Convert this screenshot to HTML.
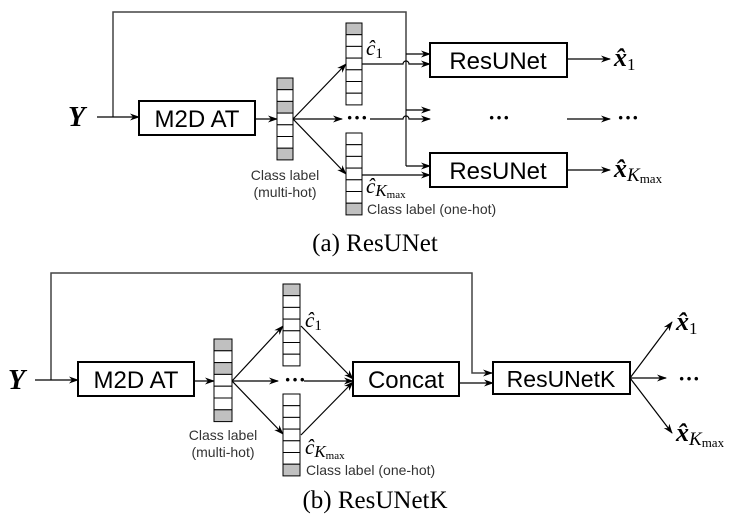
<!DOCTYPE html>
<html><head><meta charset="utf-8"><style>
html,body{margin:0;padding:0;background:#fff;}
svg{display:block;}
.t{font-family:"Liberation Sans",sans-serif;}
.s{font-family:"Liberation Serif",serif;}
</style></head><body>
<svg width="746" height="522" viewBox="0 0 746 522" xmlns="http://www.w3.org/2000/svg">
<defs>
<marker id="a" markerWidth="10" markerHeight="8" refX="9" refY="4" orient="auto" markerUnits="userSpaceOnUse">
<path d="M0,0.5 L10,4 L0,7.5 L3,4 Z" fill="#000"/></marker>
</defs>
<g stroke="#000" stroke-width="1.2" fill="none">
<path d="M113 117 V12 H406 V166" stroke="#444" stroke-width="1.5"/>
<line x1="97" y1="117" x2="139" y2="117" marker-end="url(#a)"/>
<rect x="139" y="101" width="116" height="34" stroke-width="2"/>
<line x1="255" y1="119" x2="277" y2="119" marker-end="url(#a)"/>
<line x1="293" y1="119" x2="346" y2="64" marker-end="url(#a)"/>
<line x1="293" y1="119" x2="346" y2="174" marker-end="url(#a)"/>
<line x1="293" y1="119" x2="342" y2="119" marker-end="url(#a)"/>
<path d="M362 64 H403 A3 3 0 0 1 409 64 H430" marker-end="url(#a)"/>
<path d="M370 119 H403 A3 3 0 0 1 409 119 H430" marker-end="url(#a)"/>
<line x1="362" y1="175" x2="430" y2="175" marker-end="url(#a)"/>
<line x1="406" y1="54" x2="430" y2="54" marker-end="url(#a)"/>
<line x1="406" y1="110" x2="430" y2="110" marker-end="url(#a)"/>
<line x1="406" y1="166" x2="430" y2="166" marker-end="url(#a)"/>
<rect x="430" y="43" width="137" height="34" stroke-width="2"/>
<rect x="430" y="153" width="137" height="34" stroke-width="2"/>
<line x1="567" y1="59" x2="610" y2="59" marker-end="url(#a)"/>
<line x1="567" y1="119" x2="610" y2="119" marker-end="url(#a)"/>
<line x1="567" y1="170" x2="610" y2="170" marker-end="url(#a)"/>
<path d="M51 380 V273 H472 V373 H492" stroke="#444" stroke-width="1.5" marker-end="url(#a)"/>
<line x1="35" y1="380" x2="78" y2="380" marker-end="url(#a)"/>
<rect x="78" y="362" width="116" height="34" stroke-width="2"/>
<line x1="194" y1="381" x2="214" y2="381" marker-end="url(#a)"/>
<line x1="232" y1="381" x2="283" y2="326" marker-end="url(#a)"/>
<line x1="232" y1="381" x2="283" y2="434" marker-end="url(#a)"/>
<line x1="232" y1="381" x2="278" y2="381" marker-end="url(#a)"/>
<line x1="304" y1="381" x2="353" y2="381" marker-end="url(#a)"/>
<line x1="301" y1="326" x2="353" y2="379" marker-end="url(#a)"/>
<line x1="301" y1="435" x2="353" y2="382" marker-end="url(#a)"/>
<rect x="353" y="362" width="106" height="34" stroke-width="2"/>
<line x1="459" y1="383" x2="493" y2="383" marker-end="url(#a)"/>
<rect x="493" y="362" width="137" height="32" stroke-width="2"/>
<line x1="630" y1="378" x2="672" y2="322" marker-end="url(#a)"/>
<line x1="630" y1="378" x2="666" y2="378" marker-end="url(#a)"/>
<line x1="630" y1="378" x2="672" y2="433" marker-end="url(#a)"/>
</g>
<g stroke="#000" stroke-width="1" fill="#fff">
<rect x="277" y="78" width="16" height="11.7" fill="#c0c0c0"/><rect x="277" y="89.7" width="16" height="11.7"/><rect x="277" y="101.4" width="16" height="11.7" fill="#c0c0c0"/><rect x="277" y="113.1" width="16" height="11.7"/><rect x="277" y="124.8" width="16" height="11.7"/><rect x="277" y="136.5" width="16" height="11.7"/><rect x="277" y="148.2" width="16" height="11.7" fill="#c0c0c0"/>
<rect x="346" y="23" width="16" height="11.7" fill="#c0c0c0"/><rect x="346" y="34.7" width="16" height="11.7"/><rect x="346" y="46.4" width="16" height="11.7"/><rect x="346" y="58.1" width="16" height="11.7"/><rect x="346" y="69.8" width="16" height="11.7"/><rect x="346" y="81.5" width="16" height="11.7"/><rect x="346" y="93.2" width="16" height="11.7"/>
<rect x="346" y="133" width="16" height="11.7"/><rect x="346" y="144.7" width="16" height="11.7"/><rect x="346" y="156.4" width="16" height="11.7"/><rect x="346" y="168.1" width="16" height="11.7"/><rect x="346" y="179.8" width="16" height="11.7"/><rect x="346" y="191.5" width="16" height="11.7"/><rect x="346" y="203.2" width="16" height="11.7" fill="#c0c0c0"/>
<rect x="214" y="339" width="18" height="11.8" fill="#c0c0c0"/><rect x="214" y="350.8" width="18" height="11.8"/><rect x="214" y="362.6" width="18" height="11.8" fill="#c0c0c0"/><rect x="214" y="374.4" width="18" height="11.8"/><rect x="214" y="386.2" width="18" height="11.8"/><rect x="214" y="398" width="18" height="11.8"/><rect x="214" y="409.8" width="18" height="11.8" fill="#c0c0c0"/>
<rect x="283" y="284" width="17" height="11.7" fill="#c0c0c0"/><rect x="283" y="295.7" width="17" height="11.7"/><rect x="283" y="307.4" width="17" height="11.7"/><rect x="283" y="319.1" width="17" height="11.7"/><rect x="283" y="330.8" width="17" height="11.7"/><rect x="283" y="342.5" width="17" height="11.7"/><rect x="283" y="354.2" width="17" height="11.7"/>
<rect x="283" y="394" width="17" height="11.7"/><rect x="283" y="405.7" width="17" height="11.7"/><rect x="283" y="417.4" width="17" height="11.7"/><rect x="283" y="429.1" width="17" height="11.7"/><rect x="283" y="440.8" width="17" height="11.7"/><rect x="283" y="452.5" width="17" height="11.7"/><rect x="283" y="464.2" width="17" height="11.7" fill="#c0c0c0"/>
</g>
<g class="t" font-size="24" fill="#000">
<text x="197" y="127" text-anchor="middle">M2D AT</text>
<text x="498" y="69" text-anchor="middle">ResUNet</text>
<text x="498" y="179" text-anchor="middle">ResUNet</text>
<text x="136" y="388" text-anchor="middle">M2D AT</text>
<text x="406" y="388" text-anchor="middle">Concat</text>
<text x="561" y="387" text-anchor="middle" font-size="23">ResUNetK</text>
</g>
<g class="t" font-size="14" fill="#333">
<text x="285" y="180" text-anchor="middle">Class label</text>
<text x="285" y="197" text-anchor="middle">(multi-hot)</text>
<text x="367" y="214">Class label (one-hot)</text>
<text x="223" y="440" text-anchor="middle">Class label</text>
<text x="223" y="457" text-anchor="middle">(multi-hot)</text>
<text x="306" y="475">Class label (one-hot)</text>
</g>
<g class="s" fill="#000">
<text x="68" y="126" font-size="28" font-weight="bold" font-style="italic">Y</text>
<text x="8" y="389" font-size="28" font-weight="bold" font-style="italic">Y</text>
<text x="346" y="125" font-size="22" font-weight="bold">···</text>
<text x="488" y="125" font-size="22" font-weight="bold">···</text>
<text x="617" y="125" font-size="22" font-weight="bold">···</text>
<text x="284" y="387" font-size="22" font-weight="bold">···</text>
<text x="678" y="386" font-size="22" font-weight="bold">···</text>
<text x="366" y="55" font-size="21" font-style="italic">ĉ<tspan font-style="normal" font-size="15" dy="3">1</tspan></text>
<text x="366" y="193" font-size="21" font-style="italic">ĉ<tspan font-size="17" dy="3">K</tspan><tspan font-style="normal" font-size="11" dy="2">max</tspan></text>
<text x="305" y="327" font-size="21" font-style="italic">ĉ<tspan font-style="normal" font-size="15" dy="3">1</tspan></text>
<text x="305" y="454" font-size="21" font-style="italic">ĉ<tspan font-size="17" dy="3">K</tspan><tspan font-style="normal" font-size="11" dy="2">max</tspan></text>
<text x="614" y="66" font-size="26" font-weight="bold" font-style="italic">x̂<tspan font-weight="normal" font-style="normal" font-size="17" dy="4">1</tspan></text>
<text x="614" y="177" font-size="26" font-weight="bold" font-style="italic">x̂<tspan font-weight="normal" font-size="19" dy="4">K</tspan><tspan font-weight="normal" font-style="normal" font-size="13" dy="2">max</tspan></text>
<text x="676" y="330" font-size="26" font-weight="bold" font-style="italic">x̂<tspan font-weight="normal" font-style="normal" font-size="17" dy="4">1</tspan></text>
<text x="676" y="441" font-size="26" font-weight="bold" font-style="italic">x̂<tspan font-weight="normal" font-size="19" dy="4">K</tspan><tspan font-weight="normal" font-style="normal" font-size="13" dy="2">max</tspan></text>
<text x="375" y="251" font-size="25" text-anchor="middle">(a) ResUNet</text>
<text x="375" y="508" font-size="25" text-anchor="middle">(b) ResUNetK</text>
</g>
</svg>
</body></html>
